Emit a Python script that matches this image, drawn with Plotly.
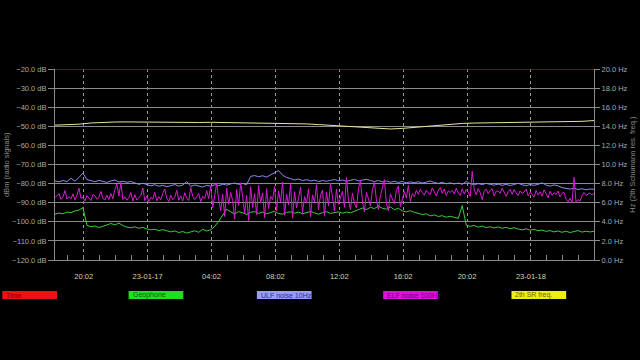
import pandas as pd
import plotly.graph_objects as go

# ---------------- data ----------------
start_time = "2023-01-16 18:14"
end_time = "2023-01-18 03:59"
times = pd.date_range(start_time, periods=136, freq="15min")
elf_times = pd.date_range(start_time, periods=271, freq="450s")
sr_times = pd.date_range(start_time, periods=46, freq="45min")

geophone = [
    -96.0, -95.4, -95.8, -94.9, -95.2, -94.3, -93.9, -92.6, -101.8, -102.6,
    -102.2, -103.0, -102.4, -101.5, -100.9, -101.6, -100.7, -101.9, -102.8, -103.1,
    -102.6, -103.4, -102.9, -103.8, -104.2, -103.9, -104.6, -104.1, -104.9, -105.3,
    -104.8, -105.6, -105.1, -105.9, -105.3, -104.7, -105.5, -103.9, -104.8, -104.2,
    -102.4, -99.8, -96.5, -93.4, -94.8, -95.9, -94.6, -95.3, -96.1, -95.0,
    -94.7, -95.6, -94.9, -95.8, -95.2, -94.5, -95.7, -96.0, -95.1, -94.8,
    -95.5, -94.9, -95.8, -95.3, -94.6, -95.4, -96.0, -95.2, -94.7, -95.6,
    -95.1, -94.8, -95.5, -94.9, -95.3, -94.6, -93.9, -92.8, -93.6, -92.4,
    -93.1, -91.8, -92.9, -93.4, -92.2, -93.7, -92.9, -94.3, -94.8, -94.2,
    -95.0, -95.6, -96.2, -95.8, -96.9, -96.4, -97.2, -96.8, -97.6, -97.1,
    -97.8, -98.2, -91.5, -101.8, -102.4, -101.9, -102.8, -102.3, -103.0, -102.6,
    -103.2, -102.7, -103.4, -102.9, -103.6, -103.1, -103.8, -104.2, -103.7, -104.4,
    -104.0, -104.7, -104.3, -105.0, -104.6, -105.3, -104.8, -105.5, -104.9, -105.6,
    -105.1, -104.6, -105.4, -104.9, -105.3, -105.0,
]

ulf_10hz = [
    -78.6, -79.1, -78.4, -78.9, -77.2, -78.7, -76.8, -74.5, -77.9, -78.5,
    -79.0, -78.3, -78.8, -79.4, -78.6, -78.1, -79.2, -78.7, -79.3, -78.9,
    -79.6, -80.4, -79.8, -80.7, -81.2, -80.6, -81.4, -80.9, -81.6, -81.1,
    -80.5, -81.3, -80.8, -78.9, -81.5, -80.7, -81.2, -81.8, -80.9, -81.4,
    -80.6, -81.1, -80.3, -80.8, -80.2, -79.7, -80.4, -79.9, -80.6, -76.2,
    -75.8, -76.4, -75.9, -76.6, -75.4, -74.1, -73.2, -75.6, -76.8, -77.4,
    -78.1, -77.6, -78.4, -77.9, -78.6, -78.2, -78.9, -78.4, -78.8, -78.3,
    -77.9, -78.5, -78.1, -78.8, -78.3, -77.8, -78.6, -78.2, -77.7, -78.4,
    -78.9, -78.4, -79.1, -78.6, -79.3, -78.8, -79.4, -78.9, -79.6, -79.1,
    -79.5, -79.0, -79.7, -79.2, -78.6, -79.4, -79.9, -79.3, -80.1, -79.6,
    -80.2, -79.7, -80.4, -78.8, -80.1, -80.6, -80.0, -80.5, -79.9, -80.4,
    -80.8, -80.3, -80.9, -80.4, -81.0, -80.5, -79.8, -80.6, -81.1, -80.5,
    -80.9, -80.4, -79.6, -80.8, -81.3, -80.7, -81.2, -82.1, -82.6, -82.9,
    -82.4, -83.1, -82.7, -83.2, -82.8, -83.0,
]

elf_100hz = [
    -87.4, -86.1, -85.2, -88.3, -87.0, -83.6, -88.1, -86.8, -87.9, -85.4,
    -88.5, -86.2, -82.4, -87.7, -87.2, -89.1, -86.3, -87.6, -88.9, -85.7,
    -86.4, -88.2, -87.3, -84.1, -87.8, -88.6, -86.1, -88.4, -85.2, -87.9,
    -83.1, -80.2, -86.5, -79.4, -88.4, -86.9, -88.7, -87.3, -84.6, -89.2,
    -85.8, -88.6, -87.1, -86.2, -82.3, -88.9, -86.5, -89.4, -87.2, -88.1,
    -84.6, -89.0, -86.8, -88.5, -85.1, -82.9, -87.6, -89.3, -86.1, -88.4,
    -87.2, -83.5, -88.7, -86.4, -89.1, -84.8, -87.5, -88.9, -82.1, -86.7,
    -88.3, -87.0, -85.2, -89.4, -86.6, -88.0, -83.7, -87.9, -81.2, -92.6,
    -86.3, -79.8, -88.4, -94.1, -85.6, -97.2, -82.4, -90.8, -84.7, -88.9,
    -98.6, -83.1, -91.4, -79.6, -86.5, -95.8, -86.2, -99.3, -81.7, -92.5,
    -85.3, -96.4, -80.8, -90.2, -84.9, -97.8, -82.6, -93.1, -86.7, -88.4,
    -81.5, -94.2, -83.8, -89.7, -79.1, -96.5, -85.4, -91.2, -80.3, -98.1,
    -84.2, -92.7, -87.5, -81.9, -95.3, -86.8, -90.1, -82.7, -97.4, -85.9,
    -89.6, -80.6, -93.8, -86.1, -83.4, -96.7, -84.5, -91.6, -79.9, -88.2,
    -94.4, -82.8, -90.9, -87.3, -84.1, -92.4, -76.8, -88.6, -93.6, -85.1,
    -90.3, -92.8, -82.6, -78.4, -89.1, -94.9, -84.6, -87.8, -91.7, -83.2,
    -79.2, -88.5, -93.5, -86.3, -81.6, -77.9, -90.2, -94.2, -85.4, -88.1,
    -90.6, -83.7, -81.3, -92.1, -88.7, -84.2, -87.6, -80.9, -89.3, -85.2,
    -86.8, -83.5, -85.6, -82.9, -84.7, -86.1, -83.4, -85.0, -85.8, -82.2,
    -84.3, -86.4, -83.7, -82.1, -85.1, -82.8, -86.2, -83.9, -84.6, -83.5,
    -85.4, -82.4, -84.9, -86.3, -82.7, -85.5, -83.1, -84.4, -86.8, -73.6,
    -83.2, -85.9, -82.6, -84.8, -88.4, -84.1, -82.9, -85.3, -83.6, -82.7,
    -86.5, -84.0, -83.9, -85.1, -82.4, -84.7, -86.7, -84.2, -83.0, -85.6,
    -83.1, -84.9, -86.3, -83.8, -85.2, -84.4, -82.9, -86.4, -84.5, -85.7,
    -87.1, -83.6, -85.9, -84.3, -86.6, -83.2, -85.5, -87.4, -84.0, -86.1,
    -84.8, -85.7, -83.9, -86.9, -85.1, -84.6, -88.2, -89.5, -87.6, -90.1,
    -76.8, -89.8, -88.4, -89.2, -86.4, -84.7, -86.2, -85.3, -84.9, -86.0,
    -85.1,
]

sr_freq_hz = [
    14.12, 14.15, 14.22, 14.35, 14.42, 14.45, 14.46, 14.44, 14.47, 14.45,
    14.43, 14.42, 14.40, 14.42, 14.40, 14.38, 14.37, 14.36, 14.36, 14.34,
    14.30, 14.25, 14.18, 14.10, 14.00, 13.92, 13.83, 13.75, 13.72, 13.78,
    13.90, 14.02, 14.12, 14.22, 14.30, 14.34, 14.36, 14.38, 14.40, 14.41,
    14.42, 14.44, 14.46, 14.48, 14.52, 14.60,
]

x_tick_vals = ["2023-01-16 20:02", "2023-01-17 00:02", "2023-01-17 04:02",
               "2023-01-17 08:02", "2023-01-17 12:02", "2023-01-17 16:02",
               "2023-01-17 20:02", "2023-01-18 00:02"]
x_tick_text = ["20:02", "23-01-17", "04:02", "08:02", "12:02", "16:02",
               "20:02", "23-01-18"]

legend_names = ["Time", "Geophone", "ULF noise 10Hz", "ELF noise 100Hz", "2th SR freq."]
legend_fill = ["#ee1111", "#22dd22", "#9a9aff", "#dd11dd", "#eeee11"]
legend_text = ["#7a0000", "#006600", "#2a2a99", "#700070", "#6a6a00"]

# ---------------- figure ----------------
FONT = "Liberation Sans Narrow, Liberation Sans, sans-serif"
fig = go.Figure()

fig.add_trace(go.Scatter(x=times, y=geophone, mode="lines", name="Geophone",
                         line=dict(color="#3ccc3c", width=1)))
fig.add_trace(go.Scatter(x=times, y=ulf_10hz, mode="lines", name="ULF noise 10Hz",
                         line=dict(color="#8c8cf0", width=1)))
fig.add_trace(go.Scatter(x=elf_times, y=elf_100hz, mode="lines", name="ELF noise 100Hz",
                         line=dict(color="#d81cd8", width=1)))
fig.add_trace(go.Scatter(x=sr_times, y=sr_freq_hz, mode="lines", name="2th SR freq.",
                         yaxis="y2", line=dict(color="#e6e69a", width=1)))

grid_col = "#8a8a8a"
fig.update_layout(
    width=640, height=360,
    paper_bgcolor="black", plot_bgcolor="black",
    margin=dict(l=53, r=45, t=69, b=100),
    showlegend=False,
    font=dict(family=FONT, size=7.5, color="#a8a8a8"),
    xaxis=dict(
        type="date", range=[start_time, end_time],
        tickmode="array", tickvals=x_tick_vals, ticktext=x_tick_text,
        tickfont=dict(color="#d6d6a2", size=7.5), ticks="", ticklabelstandoff=9,
        showgrid=True, gridcolor="#9a9a9a", griddash="dot", gridwidth=1,
        showline=True, linecolor=grid_col, linewidth=1, zeroline=False,
        minor=dict(tickmode="linear", tick0="2023-01-16 19:02", dtick=3600000,
                   ticks="inside", ticklen=5, tickcolor=grid_col, showgrid=False),
    ),
    yaxis=dict(
        range=[-120, -20], tickmode="linear", tick0=-120, dtick=10,
        tickformat=".1f", ticksuffix=" dB", ticks="outside", ticklen=6,
        tickcolor=grid_col, showgrid=True, gridcolor=grid_col, gridwidth=1,
        showline=True, linecolor=grid_col, zeroline=False,
        tickfont=dict(color="#a8a8a8", size=7.5),
    ),
    yaxis2=dict(
        range=[0, 20], overlaying="y", side="right", tickmode="linear",
        tick0=0, dtick=2, tickformat=".1f", ticksuffix=" Hz", ticks="outside",
        ticklen=5, tickcolor=grid_col, showgrid=False, showline=True,
        linecolor=grid_col, zeroline=False,
        tickfont=dict(color="#a8a8a8", size=7.5),
    ),
)

# top red line
fig.add_shape(type="line", xref="paper", yref="y", x0=0, x1=1, y0=-20, y1=-20,
              line=dict(color="#9a1a1a", width=1.5))

# axis titles
fig.add_annotation(text="dBm (radio signals)", xref="paper", yref="paper",
                   x=-0.09, y=0.5, xanchor="center", yanchor="middle",
                   textangle=-90, showarrow=False,
                   font=dict(size=7.5, color="#8a8a8a", family=FONT))
fig.add_annotation(text="Hz (2th Schumann res. freq.)", xref="paper", yref="paper",
                   x=1.071, y=0.5, xanchor="center", yanchor="middle",
                   textangle=-90, showarrow=False,
                   font=dict(size=7.5, color="#8a8a8a", family=FONT))

# custom legend boxes
plot_w = 640 - 53 - 45
plot_h = 360 - 69 - 100
box_left_px = [0, 127, 256, 383, 512]
box_w_px = 55
y_top = (260 - 291) / plot_h
y_bot = (260 - 299) / plot_h
for i, name in enumerate(legend_names):
    x0 = (box_left_px[i] - 53) / plot_w
    x1 = (box_left_px[i] + box_w_px - 53) / plot_w
    fig.add_shape(type="rect", xref="paper", yref="paper", x0=x0, x1=x1,
                  y0=y_bot, y1=y_top, fillcolor=legend_fill[i], line=dict(width=0))
    fig.add_annotation(text=name, xref="paper", yref="paper",
                       x=(box_left_px[i] + 2 - 53) / plot_w, y=(y_top + y_bot) / 2,
                       xanchor="left", yanchor="middle", showarrow=False,
                       font=dict(size=7, color=legend_text[i], family=FONT))

fig.write_html(
    "out.html",
    config={"displayModeBar": False},
    post_script="document.body.style.margin='0';document.body.style.background='black';",
)
